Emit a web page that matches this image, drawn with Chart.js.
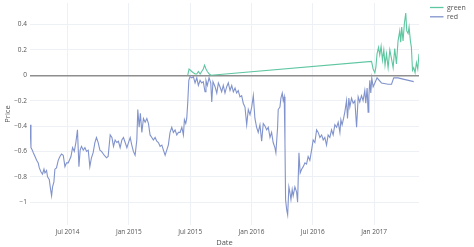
<!DOCTYPE html>
<html>
<head>
<meta charset="utf-8">
<script src="https://cdn.jsdelivr.net/npm/chart.js@4"></script>
<style>
html,body{margin:0;padding:0;background:#fff;}
#wrap{width:474px;height:247px;}
</style>
</head>
<body>
<div id="wrap"><canvas id="c" width="474" height="247"></canvas></div>
<script>
// Series names
const seriesNames = ['green', 'red'];

// Dates expressed as fractional years
const redX = [
2014.194,2014.202,2014.213,2014.221,2014.235,2014.248,2014.261,2014.270,2014.283,2014.296,
2014.308,2014.316,2014.329,2014.337,2014.351,2014.359,2014.370,2014.378,2014.389,2014.397,
2014.410,2014.424,2014.438,2014.451,2014.465,2014.479,2014.492,2014.506,2014.528,2014.541,
2014.555,2014.568,2014.581,2014.593,2014.603,2014.614,2014.628,2014.642,2014.655,2014.669,
2014.682,2014.695,2014.709,2014.723,2014.736,2014.750,2014.764,2014.777,2014.799,2014.818,
2014.831,2014.848,2014.862,2014.875,2014.888,2014.902,2014.915,2014.929,2014.943,2014.956,
2014.970,2014.984,2014.997,2015.011,2015.024,2015.037,2015.051,2015.065,2015.073,2015.084,
2015.094,2015.106,2015.119,2015.133,2015.147,2015.160,2015.173,2015.187,2015.200,2015.214,
2015.228,2015.241,2015.255,2015.269,2015.282,2015.296,2015.309,2015.322,2015.336,2015.350,
2015.363,2015.377,2015.391,2015.404,2015.418,2015.432,2015.445,2015.453,2015.464,2015.472,
2015.480,2015.489,2015.499,2015.513,2015.526,2015.540,2015.554,2015.567,2015.581,2015.594,
2015.607,2015.621,2015.629,2015.640,2015.654,2015.668,2015.676,2015.686,2015.703,2015.717,
2015.730,2015.743,2015.757,2015.770,2015.784,2015.798,2015.811,2015.825,2015.839,2015.852,
2015.866,2015.879,2015.892,2015.906,2015.920,2015.933,2015.947,2015.961,2015.974,2015.988,
2016.002,2016.015,2016.028,2016.042,2016.055,2016.069,2016.083,2016.096,2016.110,2016.124,
2016.137,2016.151,2016.164,2016.177,2016.191,2016.199,2016.213,2016.218,2016.232,2016.240,
2016.251,2016.259,2016.267,2016.273,2016.278,2016.287,2016.295,2016.305,2016.313,2016.322,
2016.332,2016.340,2016.354,2016.368,2016.376,2016.387,2016.397,2016.409,2016.422,2016.436,
2016.449,2016.462,2016.476,2016.490,2016.503,2016.517,2016.531,2016.544,2016.558,2016.572,
2016.585,2016.598,2016.612,2016.625,2016.639,2016.653,2016.666,2016.680,2016.694,2016.707,
2016.721,2016.729,2016.739,2016.751,2016.761,2016.775,2016.783,2016.794,2016.802,2016.816,
2016.829,2016.843,2016.857,2016.870,2016.883,2016.897,2016.910,2016.924,2016.932,2016.943,
2016.951,2016.957,2016.965,2016.973,2016.981,2016.992,2017.006,2017.024,2017.060,2017.114,
2017.142,2017.160,2017.195,2017.236,2017.323
];
const redY = [
-0.39,-0.57,-0.59,-0.61,-0.64,-0.67,-0.69,-0.73,-0.76,-0.78,
-0.74,-0.77,-0.75,-0.80,-0.82,-0.88,-0.95,-0.88,-0.84,-0.74,
-0.73,-0.67,-0.64,-0.62,-0.63,-0.72,-0.69,-0.69,-0.64,-0.57,
-0.60,-0.53,-0.43,-0.72,-0.59,-0.56,-0.59,-0.57,-0.60,-0.59,
-0.72,-0.65,-0.61,-0.53,-0.49,-0.53,-0.59,-0.60,-0.63,-0.65,
-0.64,-0.47,-0.49,-0.56,-0.51,-0.53,-0.52,-0.57,-0.51,-0.49,
-0.53,-0.57,-0.53,-0.49,-0.55,-0.60,-0.63,-0.51,-0.27,-0.41,
-0.30,-0.45,-0.34,-0.37,-0.34,-0.38,-0.47,-0.49,-0.51,-0.49,
-0.52,-0.53,-0.56,-0.55,-0.59,-0.63,-0.59,-0.55,-0.45,-0.41,
-0.45,-0.43,-0.47,-0.45,-0.45,-0.41,-0.47,-0.35,-0.38,-0.34,
-0.22,-0.04,-0.01,-0.02,-0.01,-0.06,-0.02,-0.08,-0.04,-0.06,
-0.05,-0.13,-0.04,-0.08,-0.02,-0.06,-0.21,-0.05,-0.09,-0.14,
-0.06,-0.09,-0.13,-0.08,-0.14,-0.09,-0.06,-0.12,-0.08,-0.13,
-0.10,-0.14,-0.12,-0.17,-0.16,-0.22,-0.25,-0.39,-0.27,-0.31,
-0.25,-0.16,-0.34,-0.41,-0.45,-0.39,-0.52,-0.38,-0.40,-0.43,
-0.41,-0.49,-0.45,-0.53,-0.57,-0.61,-0.41,-0.27,-0.25,-0.18,
-0.14,-0.20,-0.17,-0.53,-0.98,-1.06,-1.10,-0.88,-0.92,-0.98,
-0.90,-0.95,-0.88,-0.92,-1.00,-0.61,-0.77,-0.74,-0.72,-0.69,
-0.70,-0.64,-0.67,-0.59,-0.51,-0.53,-0.43,-0.45,-0.49,-0.47,
-0.51,-0.49,-0.55,-0.47,-0.49,-0.43,-0.47,-0.39,-0.41,-0.37,
-0.45,-0.35,-0.39,-0.34,-0.29,-0.20,-0.34,-0.18,-0.25,-0.18,
-0.22,-0.20,-0.41,-0.17,-0.21,-0.16,-0.20,-0.12,-0.22,-0.10,
-0.29,-0.17,-0.04,-0.14,-0.02,-0.09,-0.06,-0.02,-0.06,-0.07,
-0.07,-0.02,-0.02,-0.03,-0.05
];

const greenX = [
2015.480,2015.491,2015.502,2015.513,2015.526,2015.540,2015.554,2015.567,2015.581,2015.594,
2015.607,2015.617,2015.629,2015.640,2015.656,2015.670,2016.979,2016.992,2017.006,2017.014,
2017.024,2017.036,2017.046,2017.057,2017.068,2017.079,2017.089,2017.101,2017.114,2017.128,
2017.142,2017.155,2017.168,2017.182,2017.195,2017.209,2017.217,2017.225,2017.236,2017.247,
2017.258,2017.266,2017.277,2017.285,2017.296,2017.304,2017.313,2017.323,2017.334,2017.345,
2017.356,2017.366
];
const greenY = [
0.00,0.05,0.04,0.03,0.02,0.01,0.01,0.03,0.01,0.03,
0.05,0.08,0.05,0.03,0.01,0.00,0.11,0.05,0.02,0.06,
0.17,0.22,0.16,0.23,0.12,0.20,0.08,0.17,0.06,0.20,
0.13,0.06,0.21,0.09,0.27,0.35,0.26,0.38,0.27,0.41,
0.49,0.35,0.33,0.38,0.27,0.22,0.04,0.06,0.02,0.10,
0.05,0.17
];

const xTickValues = [2014.5, 2015.0, 2015.5, 2016.0, 2016.5, 2017.0];
const xTickLabels = ['Jul 2014', 'Jan 2015', 'Jul 2015', 'Jan 2016', 'Jul 2016', 'Jan 2017'];
const yTickValues = [-1, -0.8, -0.6, -0.4, -0.2, 0, 0.2, 0.4];
const yTickLabels = ['\u22121', '\u22120.8', '\u22120.6', '\u22120.4', '\u22120.2', '0', '0.2', '0.4'];

const FONT = "'Open Sans', 'Noto Sans', sans-serif";
const greenColor = '#5ec6a0';
const redColor = '#8193cc';
const gridColor = '#edf0f5';

const legendPlugin = {
  id: 'plotlyLegend',
  afterDraw(chart) {
    const ctx = chart.ctx;
    const items = [
      {name: seriesNames[0], color: greenColor},
      {name: seriesNames[1], color: redColor}
    ];
    ctx.save();
    ctx.font = "7px " + FONT;
    ctx.textBaseline = 'middle';
    ctx.textAlign = 'left';
    items.forEach((it, i) => {
      const y = 7.5 + i * 9.3;
      ctx.strokeStyle = it.color;
      ctx.lineWidth = 1.3;
      ctx.beginPath();
      ctx.moveTo(430, y);
      ctx.lineTo(443.5, y);
      ctx.stroke();
      ctx.fillStyle = '#555';
      ctx.fillText(it.name, 447, y);
    });
    ctx.restore();
  }
};

new Chart(document.getElementById('c'), {
  type: 'line',
  data: {
    datasets: [
      {label: seriesNames[0], data: greenX.map((x, i) => ({x: x, y: greenY[i]})),
       borderColor: greenColor, backgroundColor: greenColor, borderWidth: 1.1,
       pointRadius: 0, tension: 0, fill: false},
      {label: seriesNames[1], data: redX.map((x, i) => ({x: x, y: redY[i]})),
       borderColor: redColor, backgroundColor: redColor, borderWidth: 1.1,
       pointRadius: 0, tension: 0, fill: false}
    ]
  },
  options: {
    responsive: false,
    animation: false,
    devicePixelRatio: 1,
    layout: {padding: {top: 3, right: 55, left: 0, bottom: 0}},
    plugins: {legend: {display: false}, tooltip: {enabled: false}},
    scales: {
      x: {
        type: 'linear',
        min: 2014.194,
        max: 2017.366,
        afterBuildTicks: s => { s.ticks = xTickValues.map(v => ({value: v})); },
        afterFit: s => { s.height = 22; s.paddingLeft = 0; s.paddingRight = 0; },
        grid: {color: gridColor, drawTicks: false, lineWidth: 1},
        border: {display: false},
        ticks: {
          autoSkip: false, maxRotation: 0, padding: 3,
          font: {family: FONT, size: 6.5}, color: '#555',
          callback: (v) => xTickLabels[xTickValues.indexOf(v)]
        },
        title: {display: true, text: 'Date', font: {family: FONT, size: 7.5}, color: '#555', padding: {top: 0, bottom: 0}}
      },
      y: {
        type: 'linear',
        min: -1.18,
        max: 0.57,
        afterBuildTicks: s => { s.ticks = yTickValues.map(v => ({value: v})); },
        afterFit: s => { s.width = 30; s.paddingTop = 0; s.paddingBottom = 0; },
        grid: {
          color: c => (c.tick && c.tick.value === 0) ? '#8e8e8e' : gridColor,
          lineWidth: c => (c.tick && c.tick.value === 0) ? 1.4 : 1,
          drawTicks: false
        },
        border: {display: false},
        ticks: {
          autoSkip: false, padding: 3,
          font: {family: FONT, size: 6.5}, color: '#555',
          callback: (v) => yTickLabels[yTickValues.indexOf(v)]
        },
        title: {display: true, text: 'Price', font: {family: FONT, size: 7.5}, color: '#555', padding: {top: 3.5, bottom: 0}}
      }
    }
  },
  plugins: [legendPlugin]
});
</script>
</body>
</html>
